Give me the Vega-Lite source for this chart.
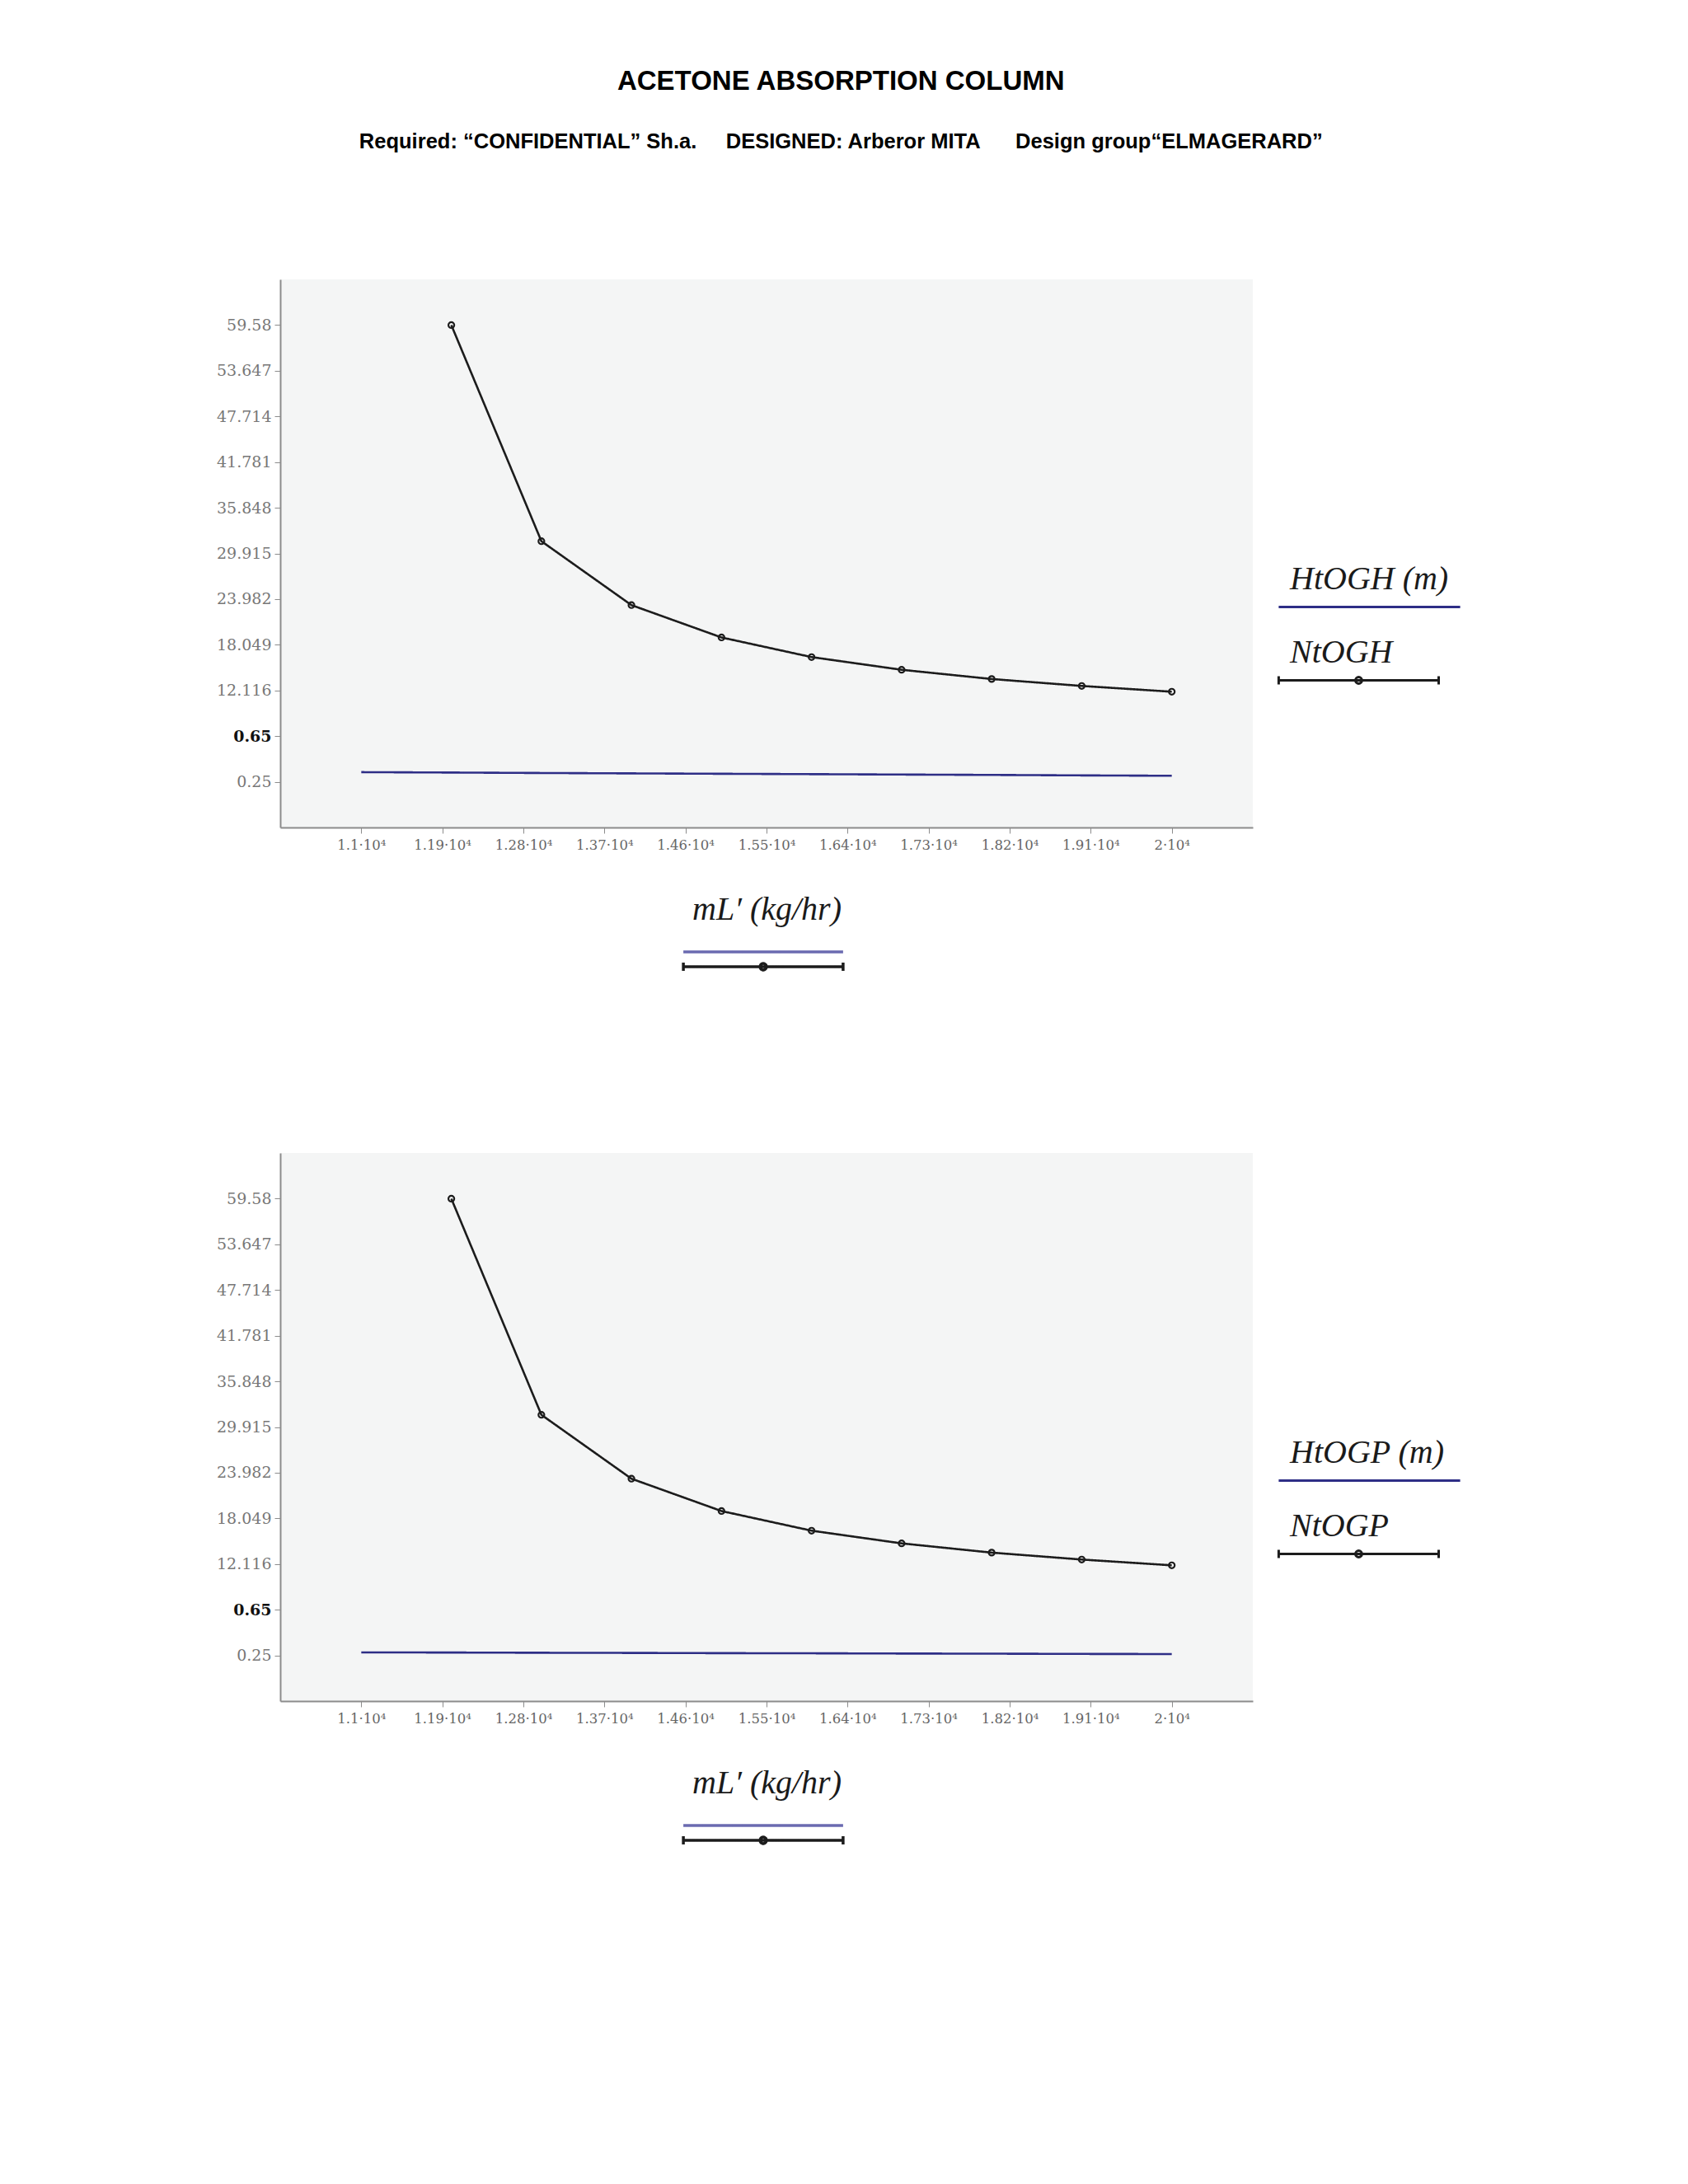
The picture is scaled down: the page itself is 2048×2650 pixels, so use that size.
{
  "$schema": "https://vega.github.io/schema/vega-lite/v6.json",
  "background": "white",
  "padding": {"left": 262, "top": 82, "right": 0, "bottom": 0},
  "title": {
    "text": "ACETONE ABSORPTION COLUMN",
    "subtitle": "Required: “CONFIDENTIAL” Sh.a.\u00a0\u00a0\u00a0\u00a0\u00a0DESIGNED: Arberor MITA\u00a0\u00a0\u00a0\u00a0\u00a0\u00a0Design group“ELMAGERARD”",
    "anchor": "middle",
    "dx": 0,
    "font": "Liberation Sans",
    "fontSize": 33,
    "fontWeight": "bold",
    "color": "black",
    "subtitleFont": "Liberation Sans",
    "subtitleFontSize": 25.5,
    "subtitleFontWeight": "bold",
    "subtitleColor": "black",
    "subtitlePadding": 44,
    "offset": 154
  },
  "datasets": {
    "mathcad": [
      {"plot": "OGH", "series": "HtOGH (m)", "mL": 11000, "val": 1.50},
      {"plot": "OGH", "series": "HtOGH (m)", "mL": 12000, "val": 1.45},
      {"plot": "OGH", "series": "HtOGH (m)", "mL": 13000, "val": 1.39},
      {"plot": "OGH", "series": "HtOGH (m)", "mL": 14000, "val": 1.34},
      {"plot": "OGH", "series": "HtOGH (m)", "mL": 15000, "val": 1.29},
      {"plot": "OGH", "series": "HtOGH (m)", "mL": 16000, "val": 1.24},
      {"plot": "OGH", "series": "HtOGH (m)", "mL": 17000, "val": 1.19},
      {"plot": "OGH", "series": "HtOGH (m)", "mL": 18000, "val": 1.14},
      {"plot": "OGH", "series": "HtOGH (m)", "mL": 19000, "val": 1.08},
      {"plot": "OGH", "series": "HtOGH (m)", "mL": 20000, "val": 1.03},
      {"plot": "OGH", "series": "NtOGH", "mL": 12000, "val": 59.58},
      {"plot": "OGH", "series": "NtOGH", "mL": 13000, "val": 31.5},
      {"plot": "OGH", "series": "NtOGH", "mL": 14000, "val": 23.2},
      {"plot": "OGH", "series": "NtOGH", "mL": 15000, "val": 19.0},
      {"plot": "OGH", "series": "NtOGH", "mL": 16000, "val": 16.45},
      {"plot": "OGH", "series": "NtOGH", "mL": 17000, "val": 14.8},
      {"plot": "OGH", "series": "NtOGH", "mL": 18000, "val": 13.6},
      {"plot": "OGH", "series": "NtOGH", "mL": 19000, "val": 12.7},
      {"plot": "OGH", "series": "NtOGH", "mL": 20000, "val": 11.95},
      {"plot": "OGP", "series": "HtOGP (m)", "mL": 11000, "val": 0.64},
      {"plot": "OGP", "series": "HtOGP (m)", "mL": 12000, "val": 0.62},
      {"plot": "OGP", "series": "HtOGP (m)", "mL": 13000, "val": 0.59},
      {"plot": "OGP", "series": "HtOGP (m)", "mL": 14000, "val": 0.57},
      {"plot": "OGP", "series": "HtOGP (m)", "mL": 15000, "val": 0.54},
      {"plot": "OGP", "series": "HtOGP (m)", "mL": 16000, "val": 0.52},
      {"plot": "OGP", "series": "HtOGP (m)", "mL": 17000, "val": 0.49},
      {"plot": "OGP", "series": "HtOGP (m)", "mL": 18000, "val": 0.47},
      {"plot": "OGP", "series": "HtOGP (m)", "mL": 19000, "val": 0.44},
      {"plot": "OGP", "series": "HtOGP (m)", "mL": 20000, "val": 0.42},
      {"plot": "OGP", "series": "NtOGP", "mL": 12000, "val": 59.58},
      {"plot": "OGP", "series": "NtOGP", "mL": 13000, "val": 31.5},
      {"plot": "OGP", "series": "NtOGP", "mL": 14000, "val": 23.2},
      {"plot": "OGP", "series": "NtOGP", "mL": 15000, "val": 19.0},
      {"plot": "OGP", "series": "NtOGP", "mL": 16000, "val": 16.45},
      {"plot": "OGP", "series": "NtOGP", "mL": 17000, "val": 14.8},
      {"plot": "OGP", "series": "NtOGP", "mL": 18000, "val": 13.6},
      {"plot": "OGP", "series": "NtOGP", "mL": 19000, "val": 12.7},
      {"plot": "OGP", "series": "NtOGP", "mL": 20000, "val": 11.95}
    ]
  },
  "data": {"name": "mathcad"},
  "bounds": "flush",
  "spacing": 395,
  "resolve": {
    "scale": {"color": "independent", "strokeDash": "independent"},
    "legend": {"color": "independent", "strokeDash": "independent"}
  },
  "vconcat": [
    {
      "width": 1180,
      "height": 665,
      "transform": [{"filter": "datum.plot === 'OGH'"}],
      "encoding": {
        "x": {
          "field": "mL", "type": "quantitative",
          "scale": {"domain": [10100, 20900], "nice": false, "zero": false},
          "axis": {
            "values": [11000, 11900, 12800, 13700, 14600, 15500, 16400, 17300, 18200, 19100, 20000],
            "labelExpr": "(datum.value / 10000) + '·10⁴'"
          },
          "title": "mL′ (kg/hr)"
        },
        "y": {
          "field": "val", "type": "quantitative",
          "scale": {"domain": [-5.683, 65.513], "nice": false, "zero": false},
          "axis": {
            "values": [0.25, 6.183, 12.116, 18.049, 23.982, 29.915, 35.848, 41.781, 47.714, 53.647, 59.58],
            "labelExpr": "datum.value === 6.183 ? '0.65' : '' + datum.value"
          },
          "title": null
        }
      },
      "layer": [
        {
          "mark": {"type": "line", "strokeWidth": 2.6},
          "encoding": {
            "color": {
              "field": "series", "type": "nominal",
              "scale": {"domain": ["HtOGH (m)", "NtOGH"], "range": ["#2e2e86", "#1c1c1c"]},
              "legend": {
                "encode": {
                  "symbols": {
                    "update": {
                      "shape": {"signal": "datum.value === 'NtOGH' ? 'M-3.67,0L2.8,0M-3.67,-0.17L-3.67,0.17M2.8,-0.17L2.8,0.17M-0.565,0A0.13,0.13,0,1,1,-0.305,0A0.13,0.13,0,1,1,-0.565,0' : 'M-3.67,0L3.67,0'"},
                      "stroke": {"signal": "datum.value === 'NtOGH' ? '#1c1c1c' : '#5a5aa6'"}
                    }
                  },
                  "labels": {"update": {"dy": {"value": -22}}}
                }
              }
            },
            "strokeDash": {
              "field": "series", "type": "nominal",
              "scale": {"domain": ["HtOGH (m)", "NtOGH", "-"], "range": [[1, 0], [1, 0], [1, 0]]},
              "legend": {
                "values": ["HtOGH (m)", "NtOGH"],
                "legendX": 581,
                "legendY": 811,
                "symbolSize": 36,
                "symbolStrokeWidth": 3.5,
                "labelExpr": "''",
                "labelFontSize": 1,
                "labelOffset": 0,
                "rowPadding": -2,
                "encode": {
                  "symbols": {
                    "update": {
                      "shape": {"signal": "datum.value === 'NtOGH' ? 'M-32.3,0L32.3,0M-32.3,-1.7L-32.3,1.7M32.3,-1.7L32.3,1.7M-1.3,0A1.3,1.3,0,1,1,1.3,0A1.3,1.3,0,1,1,-1.3,0' : 'M-32.3,0L32.3,0'"},
                      "stroke": {"signal": "datum.value === 'NtOGH' ? '#1c1c1c' : '#6a6ab0'"}
                    }
                  }
                }
              }
            }
          }
        },
        {
          "transform": [{"filter": "datum.series === 'NtOGH'"}],
          "mark": {"type": "point", "filled": false, "color": "#1c1c1c", "strokeWidth": 2.2, "size": 50, "opacity": 1}
        }
      ]
    },
    {
      "width": 1180,
      "height": 665,
      "transform": [{"filter": "datum.plot === 'OGP'"}],
      "encoding": {
        "x": {
          "field": "mL", "type": "quantitative",
          "scale": {"domain": [10100, 20900], "nice": false, "zero": false},
          "axis": {
            "values": [11000, 11900, 12800, 13700, 14600, 15500, 16400, 17300, 18200, 19100, 20000],
            "labelExpr": "(datum.value / 10000) + '·10⁴'"
          },
          "title": "mL′ (kg/hr)"
        },
        "y": {
          "field": "val", "type": "quantitative",
          "scale": {"domain": [-5.683, 65.513], "nice": false, "zero": false},
          "axis": {
            "values": [0.25, 6.183, 12.116, 18.049, 23.982, 29.915, 35.848, 41.781, 47.714, 53.647, 59.58],
            "labelExpr": "datum.value === 6.183 ? '0.65' : '' + datum.value"
          },
          "title": null
        }
      },
      "layer": [
        {
          "mark": {"type": "line", "strokeWidth": 2.6},
          "encoding": {
            "color": {
              "field": "series", "type": "nominal",
              "scale": {"domain": ["HtOGP (m)", "NtOGP"], "range": ["#2e2e86", "#1c1c1c"]},
              "legend": {
                "encode": {
                  "symbols": {
                    "update": {
                      "shape": {"signal": "datum.value === 'NtOGP' ? 'M-3.67,0L2.8,0M-3.67,-0.17L-3.67,0.17M2.8,-0.17L2.8,0.17M-0.565,0A0.13,0.13,0,1,1,-0.305,0A0.13,0.13,0,1,1,-0.565,0' : 'M-3.67,0L3.67,0'"},
                      "stroke": {"signal": "datum.value === 'NtOGP' ? '#1c1c1c' : '#5a5aa6'"}
                    }
                  },
                  "labels": {"update": {"dy": {"value": -22}}}
                }
              }
            },
            "strokeDash": {
              "field": "series", "type": "nominal",
              "scale": {"domain": ["HtOGP (m)", "NtOGP", "-"], "range": [[1, 0], [1, 0], [1, 0]]},
              "legend": {
                "values": ["HtOGP (m)", "NtOGP"],
                "legendX": 581,
                "legendY": 811,
                "symbolSize": 36,
                "symbolStrokeWidth": 3.5,
                "labelExpr": "''",
                "labelFontSize": 1,
                "labelOffset": 0,
                "rowPadding": -2,
                "encode": {
                  "symbols": {
                    "update": {
                      "shape": {"signal": "datum.value === 'NtOGP' ? 'M-32.3,0L32.3,0M-32.3,-1.7L-32.3,1.7M32.3,-1.7L32.3,1.7M-1.3,0A1.3,1.3,0,1,1,1.3,0A1.3,1.3,0,1,1,-1.3,0' : 'M-32.3,0L32.3,0'"},
                      "stroke": {"signal": "datum.value === 'NtOGP' ? '#1c1c1c' : '#6a6ab0'"}
                    }
                  }
                }
              }
            }
          }
        },
        {
          "transform": [{"filter": "datum.series === 'NtOGP'"}],
          "mark": {"type": "point", "filled": false, "color": "#1c1c1c", "strokeWidth": 2.2, "size": 50, "opacity": 1}
        }
      ]
    }
  ],
  "config": {
    "view": {"stroke": null, "fill": "#f4f5f5"},
    "axisX": {
      "labelFont": "DejaVu Serif",
      "labelFontSize": 16.5,
      "labelColor": "#666666",
      "labelPadding": 6,
      "domainColor": "#8c8c8c",
      "domainWidth": 2,
      "tickColor": "#8c8c8c",
      "tickSize": 7,
      "grid": false,
      "titleFont": "Liberation Serif",
      "titleFontStyle": "italic",
      "titleFontWeight": "normal",
      "titleFontSize": 40,
      "titleColor": "#1a1a1a",
      "titlePadding": 50
    },
    "axisY": {
      "labelFont": "DejaVu Serif",
      "labelFontSize": 19,
      "labelColor": {"condition": {"test": "datum.value === 6.183", "value": "#111111"}, "value": "#777777"},
      "labelFontWeight": {"condition": {"test": "datum.value === 6.183", "value": "bold"}, "value": "normal"},
      "labelPadding": 4,
      "domainColor": "#8c8c8c",
      "domainWidth": 2,
      "tickColor": "#8c8c8c",
      "tickSize": 7,
      "grid": false
    },
    "legend": {
      "orient": "none",
      "legendX": 1290,
      "legendY": 366,
      "title": null,
      "symbolType": "stroke",
      "symbolSize": 3600,
      "symbolStrokeWidth": 3,
      "labelFont": "Liberation Serif",
      "labelFontStyle": "italic",
      "labelFontSize": 40,
      "labelColor": "#1a1a1a",
      "labelOffset": -128,
      "labelBaseline": "alphabetic",
      "labelLimit": 400,
      "rowPadding": 28
    }
  }
}
